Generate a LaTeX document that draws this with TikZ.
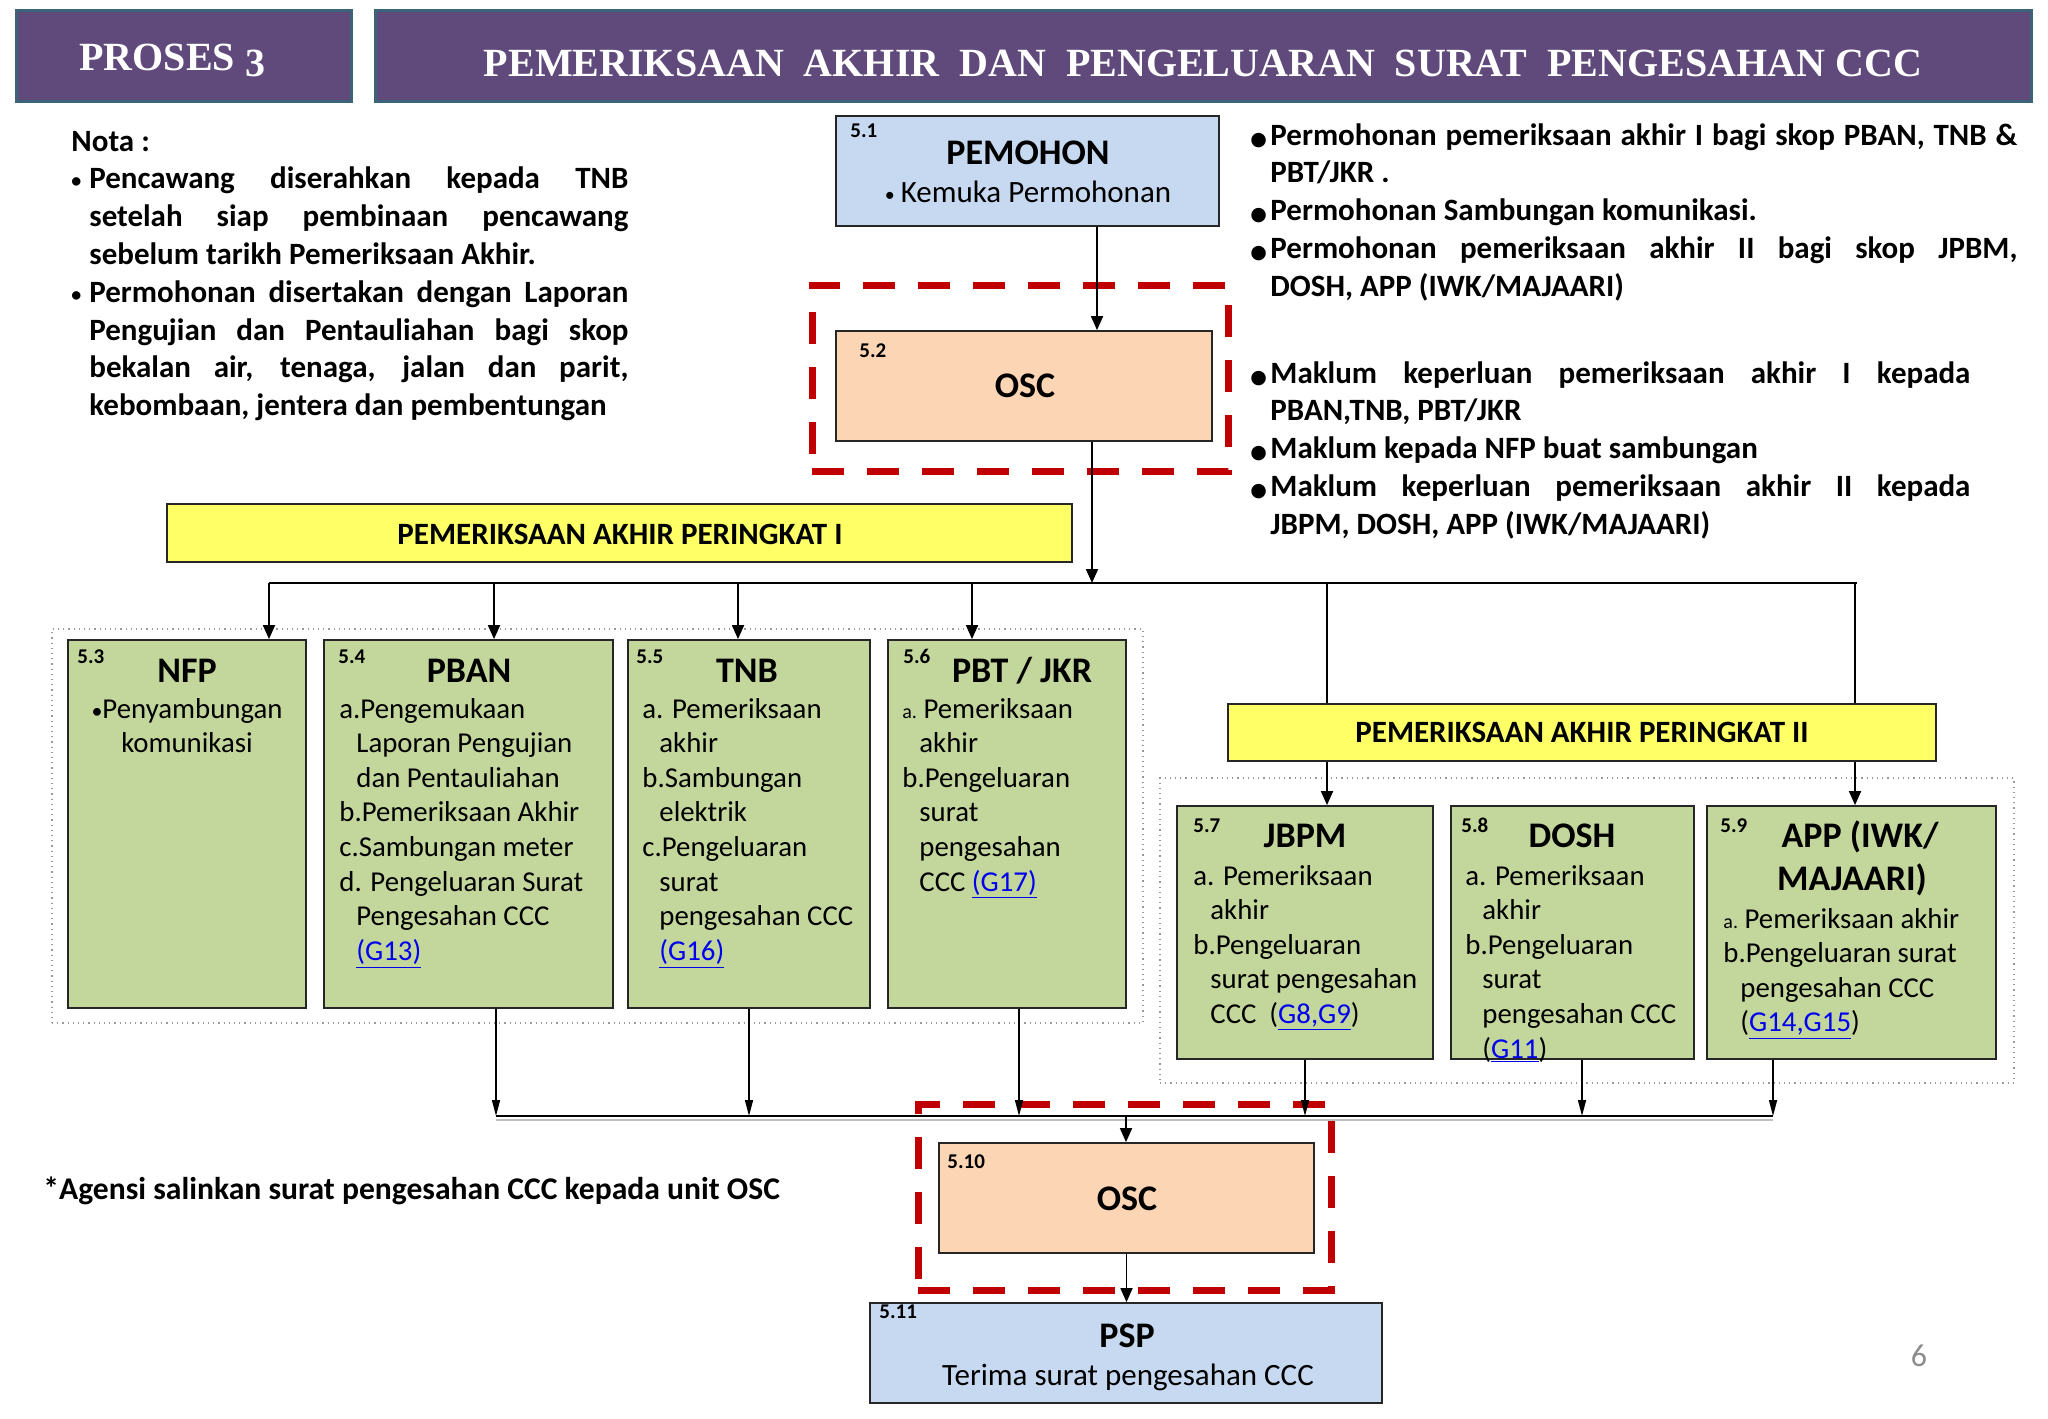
\documentclass[tikz,border=0pt]{standalone}
\usepackage{fontspec}
\setmainfont{Carlito}
\newfontfamily\hdrfont{Liberation Serif}
\newfontfamily\djv{DejaVu Sans}
\usetikzlibrary{arrows.meta,fit}
\definecolor{hdrfill}{HTML}{604A7B}
\definecolor{hdrline}{HTML}{3B6478}
\definecolor{bluefill}{HTML}{C6D9F1}
\definecolor{peach}{HTML}{FCD5B5}
\definecolor{greenfill}{HTML}{C3D69B}
\definecolor{yellowfill}{HTML}{FFFF66}
\definecolor{redline}{HTML}{C00000}
\definecolor{linkblue}{HTML}{0000EE}
\definecolor{pagegray}{HTML}{8C8C8C}
\newcommand\fs[2]{\fontsize{#1}{#2}\selectfont}
\newcommand\bul{{\djv\fs{9.5pt}{9.5pt}●}}
\newcommand\sbul{\raisebox{0.5pt}{{\fs{10pt}{10pt}•}}}
\newcommand\lnk[1]{\textcolor{linkblue}{\underline{#1}}}
\newcommand\ind{\hspace*{8.5pt}}
\newcommand\sma{{\fs{10pt}{10pt}a.}}
\begin{document}
\begin{tikzpicture}[x=0.5pt,y=-0.5pt,
  box/.style={draw=black!85,line width=0.9pt,inner sep=0pt},
  hdrbox/.style={draw=hdrline,line width=1.5pt,fill=hdrfill,inner sep=0pt},
  bluebox/.style={box,fill=bluefill},
  peachbox/.style={box,fill=peach},
  greenbox/.style={box,fill=greenfill},
  yellowbox/.style={box,fill=yellowfill},
  grpbox/.style={draw=black!40,dotted,line width=0.6pt,inner sep=0pt},
  reddash/.style={draw=redline,line width=3.5pt,dash pattern=on 16pt off 11.5pt,inner sep=0pt},
  arr/.style={draw,line width=0.9pt,-{Triangle[length=7pt,width=6pt]}},
  arrthin/.style={draw,line width=0.8pt,-{Triangle[length=8pt,width=4pt]}},
  ln/.style={draw,line width=0.9pt},
  lbl/.style={anchor=base west,inner sep=0pt,font=\fs{10.5pt}{12pt}\bfseries},
  ttl/.style={anchor=base,inner sep=0pt,font=\fs{18pt}{21.5pt}\bfseries},
  txt/.style={anchor=base west,inner sep=0pt,font=\fs{14.4pt}{17.3pt}},
  body/.style={anchor=base west,inner sep=0pt,font=\fs{15.5pt}{18.9pt}\bfseries},
  hdrtxt/.style={inner sep=0pt,text=white,font=\hdrfont\bfseries\fs{20pt}{24pt}}
]
\fill[white] (0,0) rectangle (2048,1418);
\useasboundingbox (0,0) rectangle (2048,1418);

% header
\node[hdrbox,fit={(16,11)(351,102)}] (h1) {};
\node[hdrbox,fit={(375,11)(2031,102)}] (h2) {};
\node[hdrtxt,anchor=base west] (h1t) at (79,71) {PROSES \raisebox{-2.5pt}{3}};
\node[hdrtxt,anchor=base] (h2t) at (1203,76) {PEMERIKSAAN\ \ AKHIR\ \ DAN\ \ PENGELUARAN\ \ SURAT\ \ PENGESAHAN CCC};

% nota
\node[body] (nota) at (71,151) {\parbox[t]{290pt}{\raggedright
Nota :\\
\makebox[9pt][l]{\sbul}\makebox[269.5pt][s]{Pencawang diserahkan kepada TNB}\\
\hspace*{9pt}\makebox[269.5pt][s]{setelah siap pembinaan pencawang}\\
\hspace*{9pt}sebelum tarikh Pemeriksaan Akhir.\\
\makebox[9pt][l]{\sbul}\makebox[269.5pt][s]{Permohonan disertakan dengan Laporan}\\
\hspace*{9pt}\makebox[269.5pt][s]{Pengujian dan Pentauliahan bagi skop}\\
\hspace*{9pt}\makebox[269.5pt][s]{bekalan air, tenaga, jalan dan parit,}\\
\hspace*{9pt}kebombaan, jentera dan pembentungan}};

% right notes
\node[body] (rn1) at (1250,145) {\parbox[t]{400pt}{\raggedright
\makebox[10pt][l]{\bul}\makebox[373.5pt][s]{Permohonan pemeriksaan akhir I bagi skop PBAN, TNB \&}\\
\hspace*{10pt}PBT/JKR .\\
\makebox[10pt][l]{\bul}Permohonan Sambungan komunikasi.\\
\makebox[10pt][l]{\bul}\makebox[373.5pt][s]{Permohonan pemeriksaan akhir II bagi skop JPBM,}\\
\hspace*{10pt}DOSH, APP (IWK/MAJAARI)}};
\node[body] (rn2) at (1250,383) {\parbox[t]{400pt}{\raggedright
\makebox[10pt][l]{\bul}\makebox[350pt][s]{Maklum keperluan pemeriksaan akhir I kepada}\\
\hspace*{10pt}PBAN,TNB, PBT/JKR\\
\makebox[10pt][l]{\bul}Maklum kepada NFP buat sambungan\\
\makebox[10pt][l]{\bul}\makebox[350pt][s]{Maklum keperluan pemeriksaan akhir II kepada}\\
\hspace*{10pt}JBPM, DOSH, APP (IWK/MAJAARI)}};

% red dashed frames
\node[reddash,fit={(812,285)(1228,471)}] (red1) {};
\node[reddash,fit={(918,1104)(1331,1290)}] (red2) {};

% 5.1 PEMOHON
\node[bluebox,fit={(836,116)(1219,226)}] (pem) {};
\node[lbl] (pemL) at (850,137) {5.1};
\node[ttl] (pemT) at (1028,164) {PEMOHON};
\node[anchor=base,inner sep=0pt,font=\fs{15.5pt}{19pt}] (pemS) at (1028,202) {\sbul\hspace{3pt}Kemuka Permohonan};

% 5.2 OSC
\node[peachbox,fit={(836,331)(1212,441)}] (osc1) {};
\node[lbl] (osc1L) at (859,357) {5.2};
\node[ttl] (osc1T) at (1025,397) {OSC};

% yellow bars
\node[yellowbox,fit={(167,504)(1072,562)}] (y1) {};
\node[anchor=base,inner sep=0pt,font=\fs{15.5pt}{19pt}\bfseries] (y1t) at (620,544) {PEMERIKSAAN AKHIR PERINGKAT I};
\node[yellowbox,fit={(1228,704)(1936,761)}] (y2) {};
\node[anchor=base,inner sep=0pt,font=\fs{15.5pt}{19pt}\bfseries] (y2t) at (1582,742) {PEMERIKSAAN AKHIR PERINGKAT II};

% groups
\node[grpbox,fit={(52,629)(1143,1023)}] (g1) {};
\node[grpbox,fit={(1160,778)(2014,1083)}] (g2) {};

% level I boxes
\node[greenbox,fit={(68,640)(306,1008)}] (nfp) {};
\node[greenbox,fit={(324,640)(613,1008)}] (pban) {};
\node[greenbox,fit={(628,640)(870,1008)}] (tnb) {};
\node[greenbox,fit={(888,640)(1126,1008)}] (pbt) {};
\node[lbl] (nfpL) at (77,663) {5.3};
\node[lbl] (pbanL) at (338,663) {5.4};
\node[lbl] (tnbL) at (636,663) {5.5};
\node[lbl] (pbtL) at (903,663) {5.6};
\node[ttl] (nfpT) at (187,682) {NFP};
\node[ttl] (pbanT) at (469,682) {PBAN};
\node[ttl] (tnbT) at (747,682) {TNB};
\node[ttl] (pbtT) at (1022,682) {PBT / JKR};
\node[txt,anchor=base] (nfpX) at (187,718) {\parbox[t]{115pt}{\centering {\fs{11pt}{11pt}•}Penyambungan\\komunikasi}};
\node[txt] (pbanX) at (339,718) {\parbox[t]{140pt}{\raggedright
a.Pengemukaan\\
\ind Laporan Pengujian\\
\ind dan Pentauliahan\\
b.Pemeriksaan Akhir\\
c.Sambungan meter\\
d. Pengeluaran Surat\\
\ind Pengesahan CCC\\
\ind\lnk{(G13)}}};
\node[txt] (tnbX) at (642,718) {\parbox[t]{120pt}{\raggedright
a. Pemeriksaan\\
\ind akhir\\
b.Sambungan\\
\ind elektrik\\
c.Pengeluaran\\
\ind surat\\
\ind pengesahan CCC\\
\ind\lnk{(G16)}}};
\node[txt] (pbtX) at (902,718) {\parbox[t]{115pt}{\raggedright
\sma\ Pemeriksaan\\
\ind akhir\\
b.Pengeluaran\\
\ind surat\\
\ind pengesahan\\
\ind CCC \lnk{(G17)}}};

% level II boxes
\node[greenbox,fit={(1177,806)(1433,1059)}] (jbpm) {};
\node[greenbox,fit={(1451,806)(1694,1059)}] (dosh) {};
\node[greenbox,fit={(1707,806)(1996,1059)}] (app) {};
\node[lbl] (jbpmL) at (1193,832) {5.7};
\node[lbl] (doshL) at (1461,832) {5.8};
\node[lbl] (appL) at (1720,832) {5.9};
\node[ttl] (jbpmT) at (1305,847) {JBPM};
\node[ttl] (doshT) at (1572,847) {DOSH};
\node[ttl] (appT) at (1860,847) {APP (IWK/};
\node[ttl] (appT2) at (1852,890) {MAJAARI)};
\node[txt] (jbpmX) at (1193,885) {\parbox[t]{125pt}{\raggedright
a. Pemeriksaan\\
\ind akhir\\
b.Pengeluaran\\
\ind surat pengesahan\\
\ind CCC\ \ (\lnk{G8,G9})}};
\node[txt] (doshX) at (1465,885) {\parbox[t]{120pt}{\raggedright
a. Pemeriksaan\\
\ind akhir\\
b.Pengeluaran\\
\ind surat\\
\ind pengesahan CCC\\
\ind (\lnk{G11})}};
\node[txt] (appX) at (1723,928) {\parbox[t]{140pt}{\raggedright
\sma\ Pemeriksaan akhir\\
b.Pengeluaran surat\\
\ind pengesahan CCC\\
\ind (\lnk{G14,G15})}};

% 5.10 OSC
\node[peachbox,fit={(939,1143)(1314,1253)}] (osc2) {};
\node[lbl] (osc2L) at (947,1168) {5.10};
\node[ttl] (osc2T) at (1127,1210) {OSC};

% 5.11 PSP
\node[bluebox,fit={(870,1303)(1382,1403)}] (psp) {};
\node[lbl] (pspL) at (879,1318) {5.11};
\node[ttl] (pspT) at (1127,1347) {PSP};
\node[anchor=base,inner sep=0pt,font=\fs{15.5pt}{19pt}] (pspS) at (1128,1385) {Terima surat pengesahan CCC};

% footnote and page number
\node[body,font=\fs{15.8pt}{19pt}\bfseries] (foot) at (43,1199) {*Agensi salinkan surat pengesahan CCC kepada unit OSC};
\node[anchor=base,inner sep=0pt,font=\fs{16pt}{18pt},text=pagegray] (pg) at (1919,1366) {6};

% connectors top
\coordinate (c1) at (1097,0);
\draw[arr] (pem.south -| c1) -- (osc1.north -| c1);
\coordinate (busL) at (269,583);
\coordinate (busR) at (1857,583);
\draw[ln] (busL) -- (busR);
\coordinate (c2) at (1092,583);
\draw[arr] (osc1.south -| c2) -- (c2);
\coordinate (d2) at (494,583);
\coordinate (d3) at (738,583);
\coordinate (d4) at (972,583);
\coordinate (d5) at (1327,583);
\coordinate (d6) at (1855,583);
\draw[arr] (busL) -- (busL |- nfp.north);
\draw[arr] (d2) -- (d2 |- pban.north);
\draw[arr] (d3) -- (d3 |- tnb.north);
\draw[arr] (d4) -- (d4 |- pbt.north);
\draw[ln] (d5) -- (d5 |- y2.north);
\draw[ln] (d6) -- (d6 |- y2.north);
\draw[arr] (d5 |- y2.south) -- (d5 |- jbpm.north);
\draw[arr] (d6 |- y2.south) -- (d6 |- app.north);

% connectors bottom
\coordinate (bL) at (496,1116);
\coordinate (b2) at (749,1116);
\coordinate (b3) at (1019,1116);
\coordinate (b4) at (1305,1116);
\coordinate (b5) at (1582,1116);
\coordinate (bR) at (1773,1116);
\coordinate (b0) at (1126,1116);
\draw[black!25,line width=1.2pt] ([yshift=-2pt]bL) -- ([yshift=-2pt]bR);
\draw[line width=1.3pt] (bL) -- (bR);
\draw[arrthin] (pban.south -| bL) -- (bL);
\draw[arrthin] (tnb.south -| b2) -- (b2);
\draw[arrthin] (pbt.south -| b3) -- (b3);
\draw[arrthin] (jbpm.south -| b4) -- (b4);
\draw[arrthin] (dosh.south -| b5) -- (b5);
\draw[arrthin] (app.south -| bR) -- (bR);
\draw[arr] (b0) -- (b0 |- osc2.north);
\draw[arr] (osc2.south) -- (osc2.south |- psp.north);
\end{tikzpicture}
\end{document}
